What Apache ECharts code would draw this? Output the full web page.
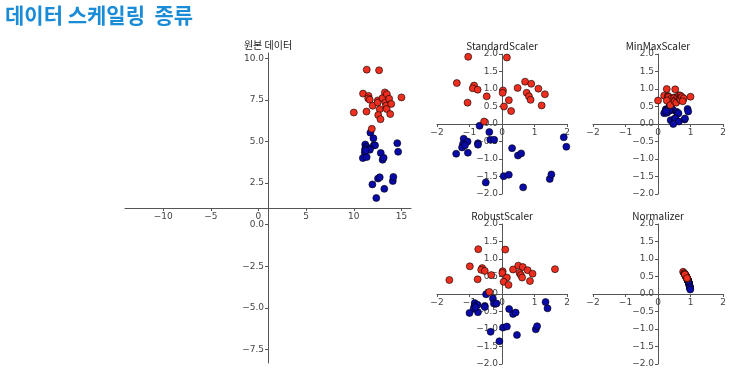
<!DOCTYPE html>
<html>
<head>
<meta charset="utf-8">
<script src="https://cdn.jsdelivr.net/npm/echarts@6/dist/echarts.min.js"></script>
<style>
html,body{margin:0;padding:0;background:#fff;}
#chart{width:745px;height:382px;}
</style>
</head>
<body>
<div id="chart"></div>
<script>
// ---- data ----
const mainTitle = '데이터 스케일링  종류';
const panelTitles = ['원본 데이터', 'StandardScaler', 'MinMaxScaler', 'RobustScaler', 'Normalizer'];

const origRed = [[11.36,9.32],[12.65,9.28],[10.97,7.88],[11.55,7.74],[11.51,7.59],[11.67,7.51],[11.98,7.15],[11.33,6.80],[11.89,5.76],[12.52,7.47],[12.51,7.34],[12.72,6.94],[12.56,6.59],[12.80,6.34],[13.01,7.61],[13.26,7.95],[13.47,7.84],[13.32,7.34],[13.39,7.15],[13.45,6.95],[13.71,7.57],[13.93,7.26],[13.82,6.65],[10.00,6.74],[15.00,7.65]];
const origBlue = [[11.74,5.53],[12.06,5.19],[12.10,4.77],[12.23,4.77],[11.20,4.82],[11.33,4.67],[11.18,4.54],[11.15,4.34],[11.68,4.57],[11.68,4.50],[10.95,4.00],[11.35,4.06],[12.83,4.31],[13.02,3.90],[13.13,4.02],[14.56,4.90],[14.65,4.38],[11.95,2.42],[12.54,2.77],[12.72,2.85],[13.20,2.15],[14.09,2.62],[14.15,2.87],[12.36,1.60],[11.25,4.45]];

const stdRed = [[-1.04,1.92],[0.15,1.90],[-1.39,1.17],[-0.86,1.10],[-0.90,1.02],[-0.75,0.98],[-0.47,0.79],[-1.06,0.61],[-0.55,0.07],[0.03,0.96],[0.02,0.89],[0.21,0.68],[0.06,0.50],[0.28,0.37],[0.48,1.03],[0.71,1.21],[0.90,1.15],[0.76,0.89],[0.83,0.79],[0.88,0.69],[1.12,1.01],[1.32,0.85],[1.22,0.53],[-2.28,0.58],[2.30,1.05]];
const stdBlue = [[-0.69,-0.05],[-0.39,-0.23],[-0.36,-0.45],[-0.24,-0.45],[-1.18,-0.42],[-1.06,-0.50],[-1.20,-0.57],[-1.23,-0.67],[-0.74,-0.55],[-0.74,-0.59],[-1.41,-0.85],[-1.05,-0.82],[0.31,-0.69],[0.49,-0.90],[0.59,-0.84],[1.90,-0.38],[1.98,-0.65],[-0.50,-1.67],[0.05,-1.49],[0.21,-1.45],[0.65,-1.81],[1.47,-1.57],[1.52,-1.44],[-0.12,-2.10],[-1.14,-0.61]];

const mmRed = [[0.27,1.00],[0.53,0.99],[0.19,0.81],[0.31,0.80],[0.30,0.78],[0.33,0.77],[0.40,0.72],[0.27,0.67],[0.38,0.54],[0.50,0.76],[0.50,0.74],[0.54,0.69],[0.51,0.65],[0.56,0.61],[0.60,0.78],[0.65,0.82],[0.69,0.81],[0.66,0.74],[0.68,0.72],[0.69,0.69],[0.74,0.77],[0.79,0.73],[0.76,0.65],[0.00,0.67],[1.00,0.78]];
const mmBlue = [[0.35,0.51],[0.41,0.46],[0.42,0.41],[0.45,0.41],[0.24,0.42],[0.27,0.40],[0.24,0.38],[0.23,0.35],[0.34,0.38],[0.34,0.37],[0.19,0.31],[0.27,0.32],[0.57,0.35],[0.60,0.30],[0.63,0.31],[0.91,0.43],[0.93,0.36],[0.39,0.11],[0.51,0.15],[0.54,0.16],[0.64,0.07],[0.82,0.13],[0.83,0.16],[0.47,0.00],[0.25,0.37]];

const robRed = [[-0.73,1.28],[0.10,1.27],[-0.99,0.79],[-0.61,0.74],[-0.64,0.69],[-0.53,0.66],[-0.33,0.54],[-0.75,0.42],[-0.39,0.06],[0.02,0.65],[0.01,0.60],[0.15,0.47],[0.05,0.35],[0.20,0.26],[0.34,0.70],[0.50,0.81],[0.64,0.77],[0.54,0.60],[0.58,0.54],[0.62,0.47],[0.79,0.68],[0.94,0.58],[0.86,0.37],[-1.62,0.40],[1.63,0.71]];
const robBlue = [[-0.49,-0.01],[-0.28,-0.13],[-0.25,-0.27],[-0.17,-0.27],[-0.84,-0.26],[-0.75,-0.31],[-0.85,-0.35],[-0.87,-0.42],[-0.53,-0.34],[-0.53,-0.37],[-1.00,-0.54],[-0.74,-0.52],[0.22,-0.43],[0.34,-0.57],[0.42,-0.53],[1.34,-0.23],[1.40,-0.41],[-0.35,-1.08],[0.03,-0.96],[0.15,-0.93],[0.46,-1.17],[1.04,-1.01],[1.08,-0.92],[-0.08,-1.35],[-0.81,-0.38]];

const normRed = [[0.773,0.634],[0.806,0.592],[0.812,0.583],[0.831,0.557],[0.835,0.551],[0.841,0.541],[0.859,0.513],[0.857,0.515],[0.900,0.436],[0.859,0.512],[0.862,0.506],[0.878,0.479],[0.886,0.465],[0.896,0.444],[0.863,0.505],[0.858,0.514],[0.864,0.503],[0.876,0.483],[0.882,0.471],[0.888,0.459],[0.875,0.483],[0.887,0.462],[0.901,0.434],[0.829,0.559],[0.891,0.454]];
const normBlue = [[0.905,0.426],[0.919,0.395],[0.930,0.367],[0.932,0.363],[0.919,0.395],[0.925,0.381],[0.927,0.376],[0.932,0.363],[0.931,0.364],[0.933,0.360],[0.939,0.343],[0.942,0.337],[0.948,0.318],[0.958,0.287],[0.956,0.293],[0.948,0.319],[0.958,0.286],[0.980,0.198],[0.976,0.216],[0.976,0.219],[0.987,0.161],[0.983,0.183],[0.980,0.199],[0.992,0.128],[0.930,0.368]];

const mainXTicks = [-10, -5, 0, 5, 10, 15];
const mainYTicks = [-7.5, -5, -2.5, 0, 2.5, 5, 7.5, 10];
const mainXRange = [-14, 16];
const mainYRange = [-8.32, 10.32];
const smallRange = [-2, 2];

// ---- chart ----
const RED = '#ee2e1e', BLUE = '#0a0aa8';
const AX = '#555';
const fmtMinus = (s) => String(s).replace('-', '\u2212');

const grids = [
  {left: 125, top: 53, width: 286, height: 310},
  {left: 437, top: 54, width: 130, height: 140},
  {left: 593, top: 54, width: 130, height: 140},
  {left: 437, top: 224, width: 130, height: 140},
  {left: 593, top: 224, width: 130, height: 140}
];

const labelBase = {fontSize: 9, color: '#444', fontFamily: 'DejaVu Sans, sans-serif'};
const lineBase = {lineStyle: {color: AX, width: 1}};
const tickBase = {length: 3, lineStyle: {color: AX, width: 1}};

const xAxes = [], yAxes = [];
// main
xAxes.push({
  type: 'value', gridIndex: 0, min: mainXRange[0], max: mainXRange[1],
  position: 'bottom', offset: -grids[0].height / 2,
  axisLine: Object.assign({onZero: false}, lineBase),
  axisTick: Object.assign({customValues: mainXTicks}, tickBase),
  axisLabel: Object.assign({customValues: mainXTicks, margin: 4, formatter: v => fmtMinus(v)}, labelBase),
  splitLine: {show: false}
});
yAxes.push({
  type: 'value', gridIndex: 0, min: mainYRange[0], max: mainYRange[1],
  position: 'left', offset: -grids[0].width / 2,
  axisLine: Object.assign({onZero: false}, lineBase),
  axisTick: Object.assign({customValues: mainYTicks}, tickBase),
  axisLabel: Object.assign({customValues: mainYTicks, margin: 4, formatter: v => fmtMinus(v.toFixed(1))}, labelBase),
  splitLine: {show: false}
});
for (let g = 1; g < 5; g++) {
  xAxes.push({
    type: 'value', gridIndex: g, min: smallRange[0], max: smallRange[1], interval: 1,
    position: 'bottom', offset: -grids[g].height / 2,
    axisLine: Object.assign({onZero: false}, lineBase),
    axisTick: tickBase,
    axisLabel: Object.assign({margin: 4, formatter: v => fmtMinus(v)}, labelBase),
    splitLine: {show: false}
  });
  yAxes.push({
    type: 'value', gridIndex: g, min: smallRange[0], max: smallRange[1], interval: 0.5,
    position: 'left', offset: -grids[g].width / 2,
    axisLine: Object.assign({onZero: false}, lineBase),
    axisTick: tickBase,
    axisLabel: Object.assign({margin: 4, formatter: v => fmtMinus(v.toFixed(1))}, labelBase),
    splitLine: {show: false}
  });
}

const panels = [[origRed, origBlue], [stdRed, stdBlue], [mmRed, mmBlue], [robRed, robBlue], [normRed, normBlue]];
const series = [];
panels.forEach((p, i) => {
  [[p[1], BLUE], [p[0], RED]].forEach(([d, c]) => {
    series.push({
      type: 'scatter', xAxisIndex: i, yAxisIndex: i, data: d,
      symbolSize: 7, clip: true, silent: true,
      itemStyle: {color: c, borderColor: '#000', borderWidth: 0.6, opacity: 1}
    });
  });
});

const titles = [{
  text: mainTitle, left: 5, top: 5, padding: 0,
  textStyle: {fontSize: 21, fontWeight: 'bold', color: '#1a8bd6', fontFamily: 'Noto Sans CJK KR'}
}];
panelTitles.forEach((t, i) => {
  const gr = grids[i];
  titles.push({
    text: t, left: gr.left + gr.width / 2, top: gr.top - 13, padding: 0, textAlign: 'center',
    textStyle: {fontSize: 10, fontWeight: 'normal', color: '#222', fontFamily: 'Noto Sans CJK KR'}
  });
});

const chart = echarts.init(document.getElementById('chart'), null, {renderer: 'canvas'});
chart.setOption({
  animation: false,
  backgroundColor: '#fff',
  title: titles,
  grid: grids,
  xAxis: xAxes,
  yAxis: yAxes,
  series: series
});
</script>
</body>
</html>
